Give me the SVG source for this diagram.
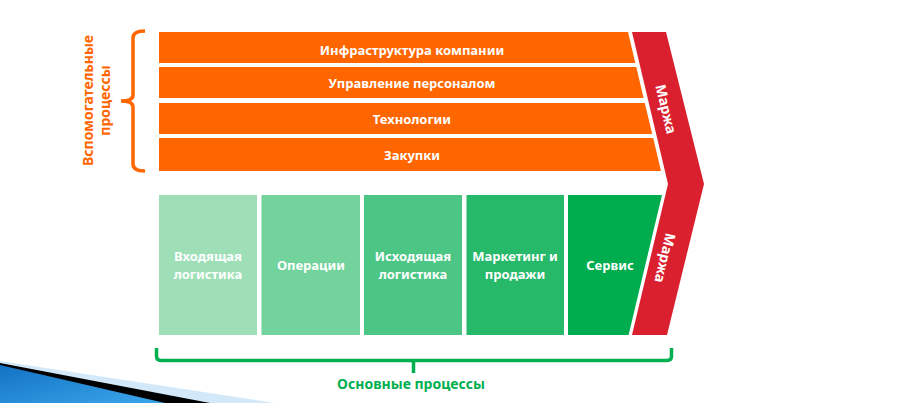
<svg xmlns="http://www.w3.org/2000/svg" width="901" height="403" viewBox="0 0 901 403">
<defs>
<style>
.bar{fill:#FF6600}
.lbl{font-family:"Noto Sans","Open Sans","DejaVu Sans",sans-serif;font-weight:bold;font-size:13px;fill:#FFFFFF;text-anchor:middle}
.marg{font-family:"Noto Sans","Open Sans","DejaVu Sans",sans-serif;font-weight:bold;font-size:14px;fill:#FFFFFF;text-anchor:middle}
.side{font-family:"Noto Sans","Open Sans","DejaVu Sans",sans-serif;font-weight:bold;font-size:14px;text-anchor:middle}
</style>
<linearGradient id="blueg" x1="0" y1="0" x2="1" y2="1">
<stop offset="0" stop-color="#1272C2"/>
<stop offset="1" stop-color="#3BA6EC"/>
</linearGradient>
</defs>
<rect width="901" height="403" fill="#FFFFFF"/>

<g id="decoration">
<polygon points="0,361 275,403 0,403" fill="#D3E9FA"/>
<polygon points="0,363 210,403 0,403" fill="#000000"/>
<polygon points="0,365 165,403 0,403" fill="url(#blueg)"/>
</g>

<g id="support-bracket">
<path d="M145,31 Q133,31 133,38 V95 Q133,101 121,101 Q133,101 133,107 V164 Q133,171 145,171" fill="none" stroke="#FF6600" stroke-width="3.5"/>
<g transform="translate(93,100.5) rotate(-90)">
<text class="side" x="0" y="0" fill="#FF6600">Вспомогательные</text>
<text class="side" x="0" y="17" fill="#FF6600">процессы</text>
</g>
</g>

<g id="infra">
<polygon class="bar" points="159,32 628,32 635.3,63 159,63"/>
<text class="lbl" x="412" y="55">Инфраструктура компании</text>
</g>
<g id="hr">
<polygon class="bar" points="159,67 636.3,67 643.6,98 159,98"/>
<text class="lbl" x="412" y="88">Управление персоналом</text>
</g>
<g id="tech">
<polygon class="bar" points="159,103 644.8,103 652.2,134 159,134"/>
<text class="lbl" x="412" y="124">Технологии</text>
</g>
<g id="purchase">
<polygon class="bar" points="159,138 653.2,138 661,171 159,171"/>
<text class="lbl" x="412" y="160">Закупки</text>
</g>

<g id="margin">
<polygon points="632,32 666,32 704,184 667,335 632,335 668,184" fill="#DA1F2E"/>
<text class="marg" transform="translate(666,109) rotate(76.7)" x="0" y="5">Маржа</text>
<text class="marg" transform="translate(665,258) rotate(103.3)" x="0" y="5">Маржа</text>
</g>

<g id="inbound">
<rect x="159" y="195" width="98" height="140" fill="#9EDFB8"/>
<text class="lbl" x="208" y="261">Входящая</text>
<text class="lbl" x="208" y="278.5">логистика</text>
</g>
<g id="operations">
<rect x="261.5" y="195" width="98.5" height="140" fill="#72D39C"/>
<text class="lbl" x="311" y="270">Операции</text>
</g>
<g id="outbound">
<rect x="364" y="195" width="98" height="140" fill="#4CC684"/>
<text class="lbl" x="413" y="261">Исходящая</text>
<text class="lbl" x="413" y="278.5">логистика</text>
</g>
<g id="marketing">
<rect x="466.5" y="195" width="97.5" height="140" fill="#27B96A"/>
<text class="lbl" x="515" y="261">Маркетинг и</text>
<text class="lbl" x="515" y="278.5">продажи</text>
</g>
<g id="service">
<polygon points="568,195 662,195 628.6,335 568,335" fill="#00AD4E"/>
<text class="lbl" x="610" y="270">Сервис</text>
</g>

<g id="main-bracket">
<path d="M156.5,348 V356 Q156.5,360.5 161,360.5 H667 Q671.5,360.5 671.5,356 V348 M413.5,360.5 V373" fill="none" stroke="#00B050" stroke-width="3.5"/>
<text class="side" x="411" y="389" fill="#00B050">Основные процессы</text>
</g>
</svg>
